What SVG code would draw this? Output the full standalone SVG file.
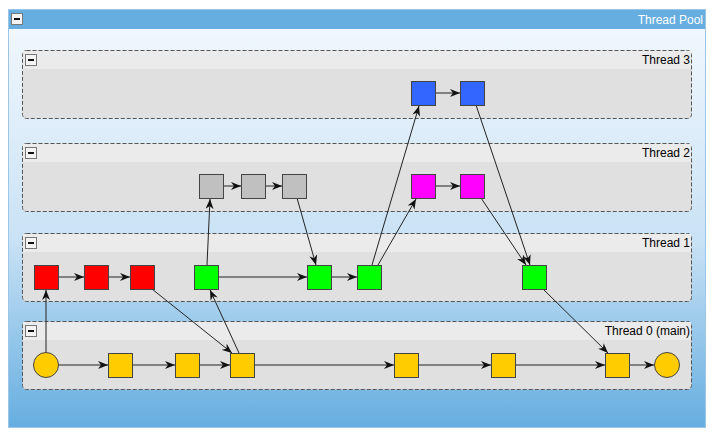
<svg xmlns="http://www.w3.org/2000/svg" width="714" height="436" viewBox="0 0 714 436">
<defs>
<linearGradient id="bg" x1="0" y1="0" x2="0" y2="1"><stop offset="0" stop-color="#f4f9fe"/><stop offset="0.55" stop-color="#c9e2f5"/><stop offset="1" stop-color="#66aee0"/></linearGradient>
<marker id="a" viewBox="0 0 10 8" refX="10" refY="4" markerWidth="10" markerHeight="8" markerUnits="userSpaceOnUse" orient="auto"><path d="M0,0 L10,4 L0,8 L3,4 Z" fill="#111"/></marker>
</defs>
<style>
text{font-family:"Liberation Sans",Arial,sans-serif;font-size:12px}
.lane{fill:#e0e0e0;stroke:#555;stroke-dasharray:4 2}
.lh{fill:#ebebeb}
.btn{fill:#f4f4f4;stroke:#777}
.n{stroke:#444;stroke-width:1}
.c path{fill:none;stroke:#222;stroke-width:1;marker-end:url(#a)}
</style>
<g id="pool">
<rect x="8.5" y="9.5" width="697" height="418" fill="url(#bg)" stroke="#9cc6e8"/>
<rect x="9" y="10" width="696" height="19" fill="#66aee0"/>
<rect x="11.5" y="13.5" width="11" height="11" class="btn"/><rect x="14" y="18" width="6" height="2" fill="#111"/>
<text x="703" y="24" text-anchor="end" fill="#fff" font-size="13">Thread Pool</text>
</g>
<g id="lane3"><rect x="22.5" y="50.5" width="669" height="68" rx="4" class="lane"/><rect x="23" y="51" width="668" height="18" class="lh"/><rect x="25.5" y="54.5" width="11" height="11" class="btn"/><rect x="28" y="59" width="6" height="2" fill="#111"/><text x="690" y="64" text-anchor="end">Thread 3</text></g>
<g id="lane2"><rect x="22.5" y="143.5" width="669" height="68" rx="4" class="lane"/><rect x="23" y="144" width="668" height="18" class="lh"/><rect x="25.5" y="147.5" width="11" height="11" class="btn"/><rect x="28" y="152" width="6" height="2" fill="#111"/><text x="690" y="157" text-anchor="end">Thread 2</text></g>
<g id="lane1"><rect x="22.5" y="233.5" width="669" height="68" rx="4" class="lane"/><rect x="23" y="234" width="668" height="18" class="lh"/><rect x="25.5" y="237.5" width="11" height="11" class="btn"/><rect x="28" y="242" width="6" height="2" fill="#111"/><text x="690" y="247" text-anchor="end">Thread 1</text></g>
<g id="lane0"><rect x="22.5" y="321.5" width="669" height="68" rx="4" class="lane"/><rect x="23" y="322" width="668" height="18" class="lh"/><rect x="25.5" y="325.5" width="11" height="11" class="btn"/><rect x="28" y="330" width="6" height="2" fill="#111"/><text x="690" y="335" text-anchor="end">Thread 0 (main)</text></g>
<g id="connectors" class="c">
<path d="M46,352 L46,290"/>
<path d="M58,277 L84,277"/><path d="M108,277 L130,277"/>
<path d="M152,289 L232,353"/>
<path d="M239,353 L210,290"/>
<path d="M207,265 L210,199"/>
<path d="M223,186 L241,186"/><path d="M265,186 L282,186"/>
<path d="M297,198 L316,265"/>
<path d="M218,277 L307,277"/><path d="M331,277 L357,277"/>
<path d="M372,265 L419,106"/>
<path d="M378,265 L416,199"/>
<path d="M435,186 L460,186"/><path d="M435,93 L460,93"/>
<path d="M476,105 L530,265"/>
<path d="M481,198 L526,265"/>
<path d="M543,289 L608,353"/>
<path d="M59,365 L108,365"/><path d="M132,365 L175,365"/><path d="M199,365 L230,365"/><path d="M254,365 L394,365"/><path d="M418,365 L491,365"/><path d="M515,365 L605,365"/><path d="M629,365 L654,365"/>
</g>
<g id="nodes">
<g id="b1"><rect x="411.5" y="81.5" width="24" height="24" fill="#3366ff" class="n"/></g>
<g id="b2"><rect x="460.5" y="81.5" width="24" height="24" fill="#3366ff" class="n"/></g>
<g id="g1"><rect x="199.5" y="174.5" width="24" height="24" fill="#c0c0c0" class="n"/></g>
<g id="g2"><rect x="241.5" y="174.5" width="24" height="24" fill="#c0c0c0" class="n"/></g>
<g id="g3"><rect x="282.5" y="174.5" width="24" height="24" fill="#c0c0c0" class="n"/></g>
<g id="m1"><rect x="411.5" y="174.5" width="24" height="24" fill="#ff00ff" class="n"/></g>
<g id="m2"><rect x="460.5" y="174.5" width="24" height="24" fill="#ff00ff" class="n"/></g>
<g id="r1"><rect x="34.5" y="265.5" width="24" height="24" fill="#ff0000" class="n"/></g>
<g id="r2"><rect x="84.5" y="265.5" width="24" height="24" fill="#ff0000" class="n"/></g>
<g id="r3"><rect x="130.5" y="265.5" width="24" height="24" fill="#ff0000" class="n"/></g>
<g id="gr1"><rect x="194.5" y="265.5" width="24" height="24" fill="#00ff00" class="n"/></g>
<g id="gr2"><rect x="307.5" y="265.5" width="24" height="24" fill="#00ff00" class="n"/></g>
<g id="gr3"><rect x="357.5" y="265.5" width="24" height="24" fill="#00ff00" class="n"/></g>
<g id="gr4"><rect x="522.5" y="265.5" width="24" height="24" fill="#00ff00" class="n"/></g>
<g id="start"><circle cx="46" cy="365" r="12.5" fill="#ffcc00" class="n"/></g>
<g id="y1"><rect x="108.5" y="353.5" width="24" height="24" fill="#ffcc00" class="n"/></g>
<g id="y2"><rect x="175.5" y="353.5" width="24" height="24" fill="#ffcc00" class="n"/></g>
<g id="y3"><rect x="230.5" y="353.5" width="24" height="24" fill="#ffcc00" class="n"/></g>
<g id="y4"><rect x="394.5" y="353.5" width="24" height="24" fill="#ffcc00" class="n"/></g>
<g id="y5"><rect x="491.5" y="353.5" width="24" height="24" fill="#ffcc00" class="n"/></g>
<g id="y6"><rect x="605.5" y="353.5" width="24" height="24" fill="#ffcc00" class="n"/></g>
<g id="end"><circle cx="667" cy="365" r="12.5" fill="#ffcc00" class="n"/></g>
</g>
</svg>
